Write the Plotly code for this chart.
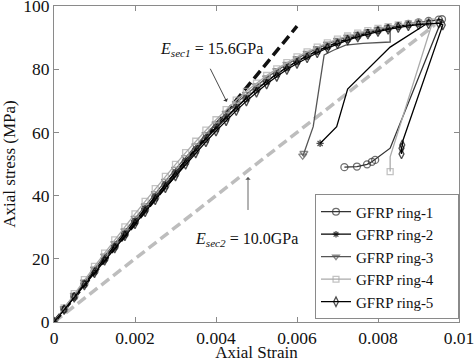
import plotly.graph_objects as go

# ---------------- data ----------------
grid = [0, 0.00025, 0.0005, 0.00075, 0.001, 0.00125, 0.0015, 0.00175, 0.002, 0.00225,
        0.0025, 0.00275, 0.003, 0.00325, 0.0035, 0.00375, 0.004, 0.00425, 0.0045, 0.00475,
        0.005, 0.00525, 0.0055, 0.00575, 0.006, 0.00625, 0.0065, 0.00675, 0.007, 0.00725,
        0.0075, 0.00775, 0.008, 0.00825, 0.0085, 0.00875, 0.009, 0.00925, 0.0095]

ring1_strain = grid[:39] + [0.00958, 0.0083, 0.00793, 0.00785, 0.00773, 0.00748, 0.00717]
ring1_stress = [0, 4.0, 8.0, 12.0, 16.0, 20.0, 23.9, 27.8, 31.7, 35.6, 39.4, 43.2, 47.0, 50.7,
                54.3, 57.9, 61.3, 64.6, 67.8, 70.8, 73.6, 76.2, 78.5, 80.6, 82.5, 84.2, 85.8,
                87.2, 88.5, 89.6, 90.6, 91.5, 92.3, 93.0, 93.7, 94.3, 94.8, 95.3, 95.7,
                95.8, 55.0, 51.3, 50.7, 49.9, 49.2, 49.0]

ring2_strain = grid[:38] + [0.0083, 0.00725, 0.00698, 0.00657]
ring2_stress = [0, 4.1, 8.2, 12.2, 16.2, 20.2, 24.2, 28.1, 32.0, 35.9, 39.8, 43.6, 47.4, 51.1,
                54.7, 58.2, 61.6, 64.9, 68.0, 70.9, 73.7, 76.2, 78.5, 80.6, 82.5, 84.2, 85.8,
                87.2, 88.5, 89.6, 90.6, 91.5, 92.3, 93.0, 93.6, 94.1, 94.5, 94.8,
                87.0, 73.7, 61.8, 56.5]

ring3_strain = grid[:34] + [0.0083, 0.0083, 0.00763, 0.0072, 0.0069, 0.00667, 0.0064, 0.00617, 0.00614]
ring3_stress = [0, 4.3, 8.5, 12.7, 16.8, 20.9, 24.9, 28.9, 32.9, 36.8, 40.7, 44.6, 48.4, 52.1,
                55.8, 59.4, 62.8, 66.1, 69.2, 72.1, 74.8, 77.3, 79.6, 81.6, 83.4, 85.1, 86.6,
                88.0, 89.2, 90.2, 91.1, 91.9, 92.6, 93.2,
                93.3, 88.6, 88.2, 87.6, 86.0, 84.5, 61.8, 53.4, 52.6]

ring4_strain = grid[:38] + [0.00935, 0.0083, 0.0083]
ring4_stress = [0, 4.5, 9.0, 13.4, 17.6, 21.8, 26.0, 30.1, 34.2, 38.2, 42.2, 46.1, 49.9, 53.6,
                57.2, 60.7, 64.0, 67.2, 70.2, 73.0, 75.6, 78.0, 80.1, 82.1, 83.9, 85.5, 87.0,
                88.3, 89.5, 90.5, 91.4, 92.2, 92.9, 93.5, 94.0, 94.4, 94.7, 94.9,
                95.0, 52.3, 47.6]

ring5_strain = grid[:39] + [0.0096, 0.00862, 0.0086, 0.00858, 0.00858]
ring5_stress = [0, 3.9, 7.8, 11.7, 15.6, 19.5, 23.4, 27.3, 31.1, 34.9, 38.7, 42.5, 46.2, 49.9,
                53.5, 57.0, 60.4, 63.7, 66.9, 69.9, 72.7, 75.3, 77.7, 79.9, 81.8, 83.6, 85.2,
                86.7, 88.0, 89.2, 90.2, 91.1, 91.9, 92.6, 93.2, 93.7, 94.1, 94.4, 94.6,
                94.0, 57.6, 56.0, 55.0, 53.2]

# indices of points drawn without a marker (plain line segments of the drop-off)
ring1_plain = [40]
ring2_plain = [38, 39, 40]
ring3_plain = [34, 35, 36, 37, 38, 39, 40]
ring4_plain = [39]
ring5_plain = [40]

esec1_strain = [0, 0.006]
esec1_stress = [0, 93.6]
esec2_strain = [0, 0.0094]
esec2_stress = [0, 94.0]

series_names = ["GFRP ring-1", "GFRP ring-2", "GFRP ring-3", "GFRP ring-4", "GFRP ring-5"]
x_ticks = [0, 0.002, 0.004, 0.006, 0.008, 0.01]
x_tick_text = ["0", "0.002", "0.004", "0.006", "0.008", "0.01"]
y_ticks = [0, 20, 40, 60, 80, 100]

# ---------------- figure ----------------
FONT = "Liberation Serif, Times New Roman, serif"
fig = go.Figure()

fig.add_trace(go.Scatter(x=esec2_strain, y=esec2_stress, mode="lines", showlegend=False,
                         line=dict(color="#bdbdbd", width=3.5, dash="10px,5px"), hoverinfo="skip"))
fig.add_trace(go.Scatter(x=esec1_strain, y=esec1_stress, mode="lines", showlegend=False,
                         line=dict(color="#111111", width=3.5, dash="10px,5px"), hoverinfo="skip"))

styles = [
    (ring1_strain, ring1_stress, ring1_plain, "#333333", "circle-open", 7),
    (ring2_strain, ring2_stress, ring2_plain, "#000000", "asterisk-open", 6),
    (ring3_strain, ring3_stress, ring3_plain, "#555555", "triangle-down-open", 7),
    (ring4_strain, ring4_stress, ring4_plain, "#aaaaaa", "square-open", 6),
    (ring5_strain, ring5_stress, ring5_plain, "#000000", "diamond-tall-open", 7),
]
pad = "\u00a0" * 5
for name, (xs, ys, plain, col, sym, sz) in zip(series_names, styles):
    sizes = [0 if i in plain else sz for i in range(len(xs))]
    fig.add_trace(go.Scatter(
        x=xs, y=ys, mode="lines+markers", name=name + pad,
        line=dict(color=col, width=1.3),
        marker=dict(symbol=sym, size=sizes, color=col, line=dict(color=col, width=1.3)),
    ))

axis_common = dict(showgrid=False, zeroline=False, showline=True, linecolor="#8a8a8a",
                   linewidth=1, mirror="ticks", ticks="inside", ticklen=5, tickcolor="#8a8a8a",
                   tickfont=dict(family=FONT, size=17.5, color="#111"), automargin=False,
                   ticklabeloverflow="allow")

fig.update_layout(
    width=474, height=362,
    margin=dict(l=54, r=15, t=6, b=40),
    paper_bgcolor="white", plot_bgcolor="white",
    font=dict(family=FONT, size=16, color="#111"),
    xaxis=dict(range=[0, 0.01], tickvals=x_ticks, ticktext=x_tick_text,
               title=dict(text="Axial Strain", font=dict(family=FONT, size=17), standoff=5),
               **axis_common),
    yaxis=dict(range=[0, 100], tickvals=y_ticks,
               title=dict(text="Axial stress (MPa)", font=dict(family=FONT, size=17), standoff=12),
               **axis_common),
    legend=dict(x=1, xanchor="right", y=0.008, yanchor="bottom",
                bgcolor="white", bordercolor="#8a8a8a", borderwidth=1,
                font=dict(family=FONT, size=15, color="#111"),
                tracegroupgap=0, itemsizing="trace"),
    showlegend=True,
)

# annotations
fig.add_annotation(x=0.004266, y=69.7, ax=-20, ay=-40, text=" ", showarrow=True,
                   arrowhead=1, arrowsize=1, arrowwidth=0.9, arrowcolor="#333", standoff=0)
fig.add_annotation(x=0.00388, y=86.3, text="<i>E<sub>sec1</sub></i> = 15.6GPa", showarrow=False,
                   font=dict(family=FONT, size=16, color="#111"))
fig.add_annotation(x=0.00479, y=45.9, ax=0, ay=43, text=" ", showarrow=True,
                   arrowhead=1, arrowsize=1, arrowwidth=0.9, arrowcolor="#555", standoff=0)
fig.add_annotation(x=0.00475, y=26.0, text="<i>E<sub>sec2</sub></i> = 10.0GPa", showarrow=False,
                   font=dict(family=FONT, size=16, color="#111"))

fig.write_html("out.html", config={"displayModeBar": False},
               post_script="document.body.style.margin='0px';")
